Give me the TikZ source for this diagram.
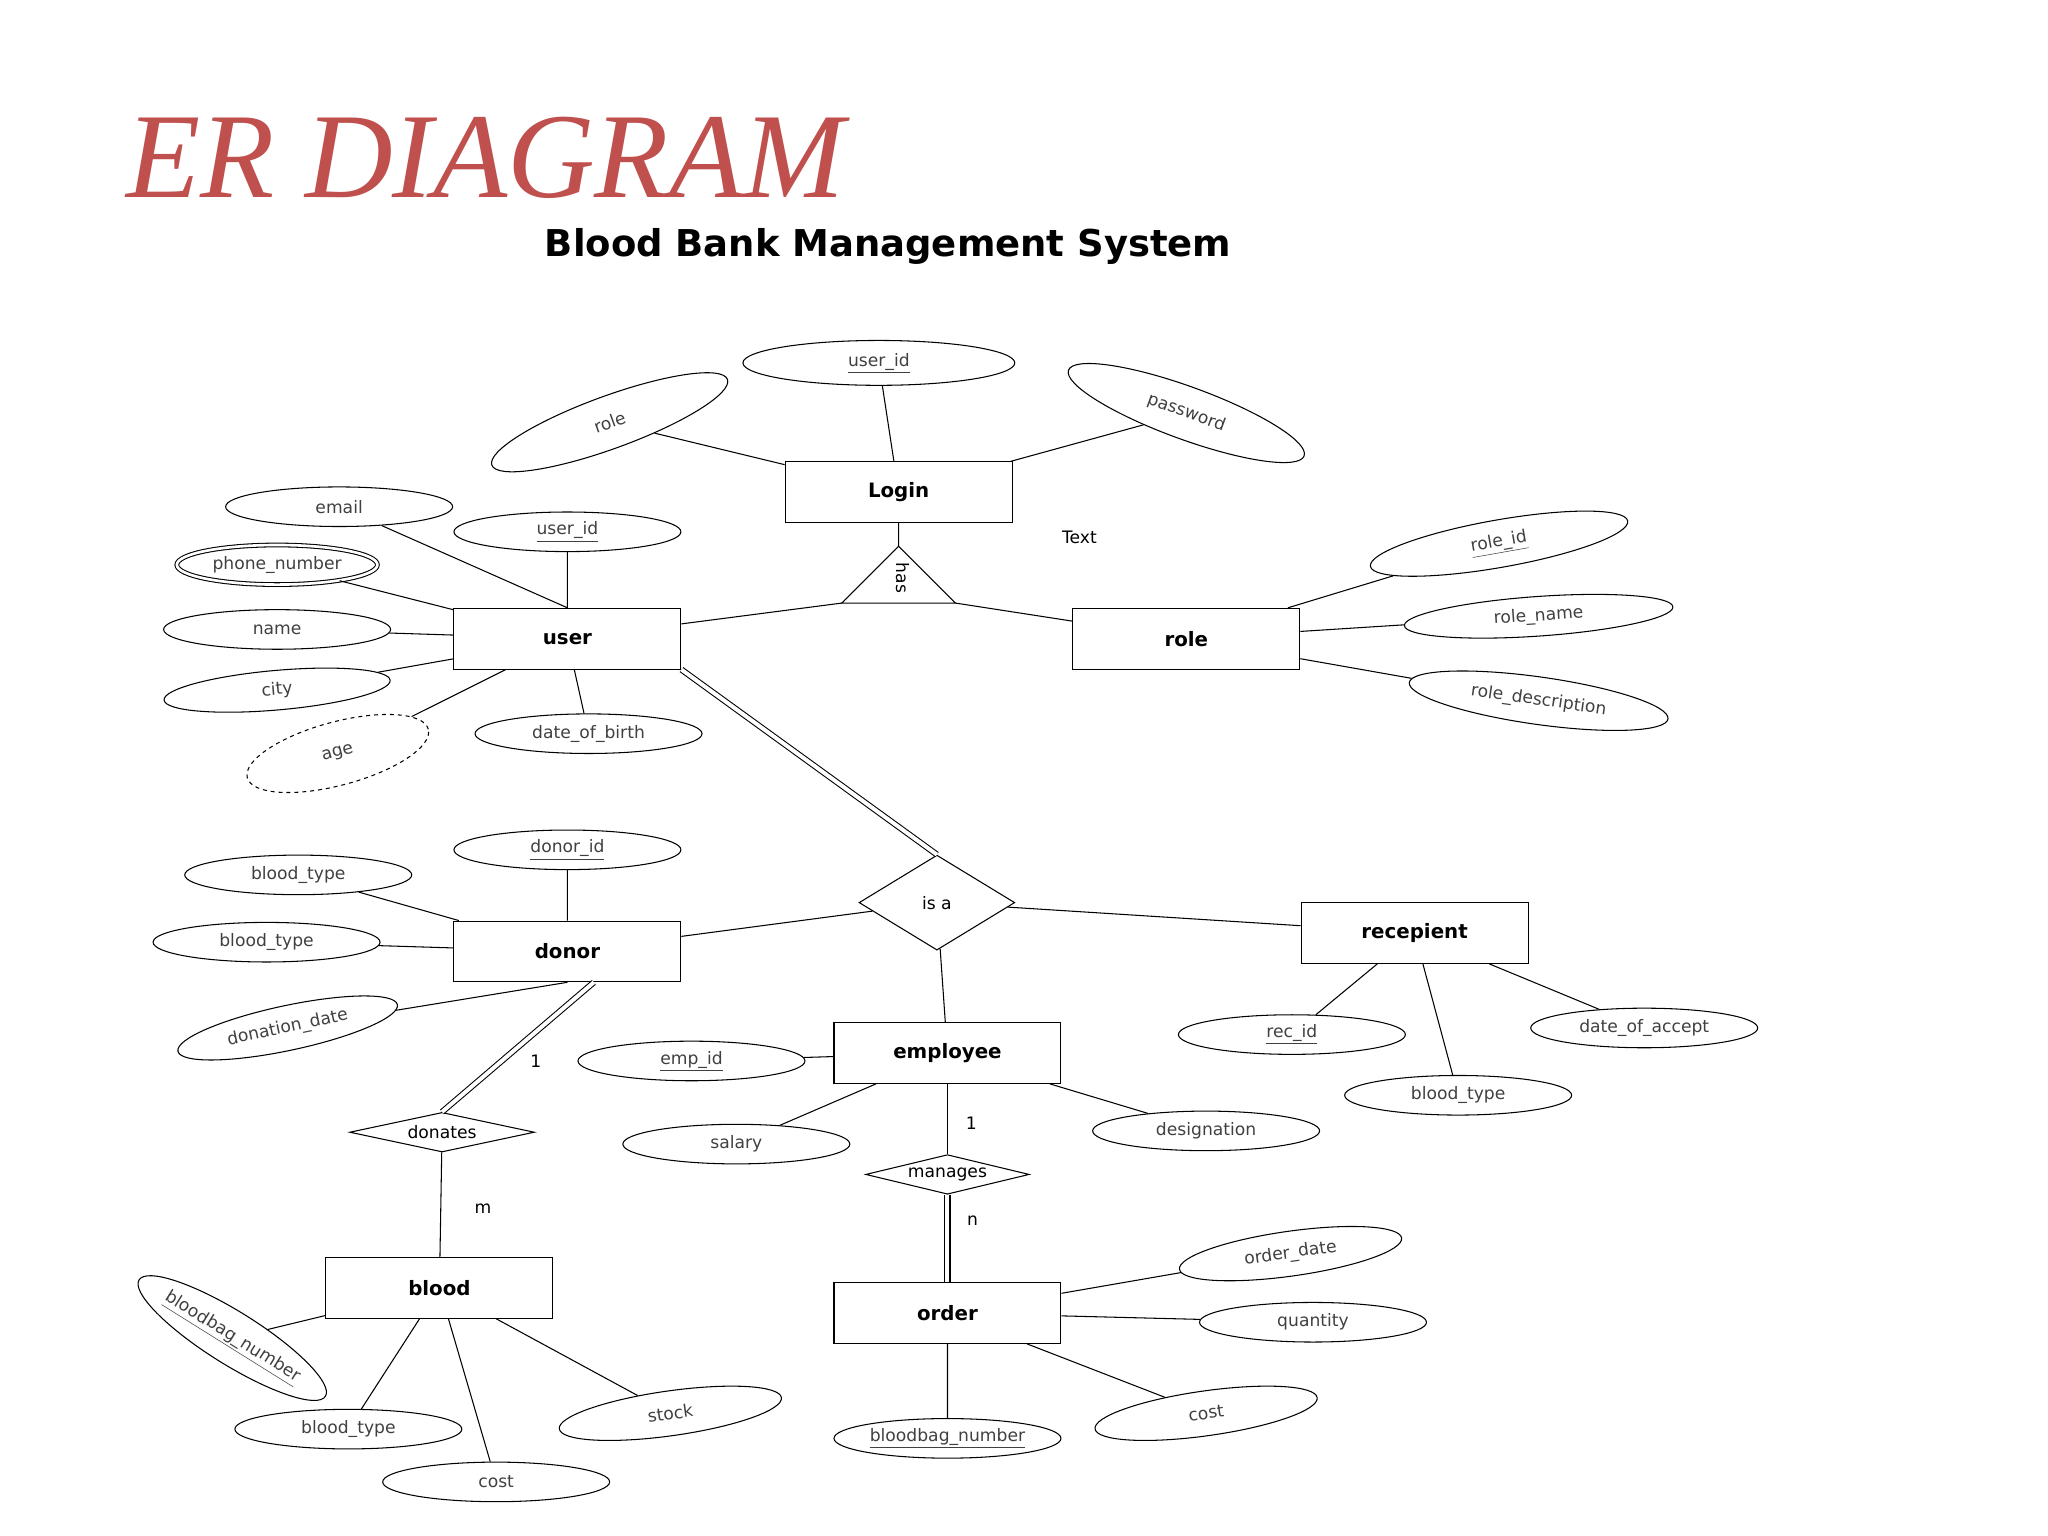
\documentclass[tikz,border=0pt]{standalone}
\usepackage{fontspec}
\setmainfont{Liberation Serif}
\newfontfamily\lab{DejaVu Sans}
\usetikzlibrary{shapes.geometric}
\definecolor{titlered}{RGB}{192,80,77}
\tikzset{
 ent/.style={draw,thick,minimum width=172pt,minimum height=46pt,font=\lab\bfseries\fontsize{15}{17}\selectfont},
 att/.style={draw,ellipse,minimum width=172pt,minimum height=30pt,inner sep=0pt,font=\lab\fontsize{13}{15}\selectfont,text=black!75},
 rel/.style={draw,diamond,aspect=3,inner sep=0pt,font=\lab\fontsize{13}{15}\selectfont},
 dbl/.style={double,double distance=3pt},
 lbl/.style={font=\lab\fontsize{13}{15}\selectfont}
}
\begin{document}
\begin{tikzpicture}[x=1pt,y=-1pt,line width=0.8pt]
\useasboundingbox (0,0) rectangle (1552,1164);
\node[anchor=base west,text=titlered,font=\itshape\fontsize{92}{100}\selectfont] (title) at (92,150) {ER DIAGRAM};
\node[font=\lab\bfseries\fontsize{28}{32}\selectfont] (sub) at (673,187) {Blood Bank Management System};
% Login
\node[ent] (login) at (681,373) {Login};
\node[att,minimum width=206pt,minimum height=34pt] (luid) at (666,275) {\underline{user\_id}};
\node[att,minimum width=190pt,minimum height=40pt,rotate=20] (lrole) at (462,320) {role};
\node[att,minimum width=190pt,minimum height=40pt,rotate=-20] (lpass) at (899,313) {password};
\coordinate (hA) at (681,414); \coordinate (hL) at (638,457); \coordinate (hR) at (724,457);
\draw (hA)--(hL)--(hR)--cycle;
\node[lbl,rotate=-90] (has) at (684,438) {has};
\node[lbl] (txt) at (818,407) {Text};
\draw (login)--(luid) (login)--(lrole) (login)--(lpass) (login)--(hA);
% user
\node[ent] (user) at (430,484) {user};
\node[ent] (role) at (899,484) {role};
\draw (hL)--(user) (hR)--(role);
\node[att] (email) at (257,384) {email};
\node[att] (uid) at (430,403) {\underline{user\_id}};
\node[att,minimum width=152pt,double,double distance=2pt] (phone) at (210,428) {phone\_number};
\node[att] (name) at (210,477) {name};
\node[att,rotate=5] (city) at (210,523) {city};
\node[att,dashed,minimum width=142pt,minimum height=48pt,rotate=15] (age) at (256,571) {age};
\node[att] (dob) at (446,556) {date\_of\_birth};
\draw (email)--(user.north) (uid)--(user) (phone)--(user) (name)--(user) (city)--(user) (age)--(user) (dob)--(user);
% role
\node[att,minimum width=198pt,minimum height=36pt,rotate=10] (rid) at (1136,412) {\underline{role\_id}};
\node[att,minimum width=204pt,rotate=4] (rname) at (1166,467) {role\_name};
\node[att,minimum width=198pt,minimum height=36pt,rotate=-8] (rdesc) at (1166,531) {role\_description};
\draw (role)--(rid) (role)--(rname) (role)--(rdesc);
% is a
\node[rel,minimum width=118pt,minimum height=72pt,aspect=1.6] (isa) at (710,684) {is a};
\draw[dbl] (user.south east)--(isa.north);
\node[ent] (donor) at (430,721) {donor};
\node[ent] (recep) at (1072,707) {recepient};
\node[ent] (emp) at (718,798) {employee};
\draw (isa)--(donor) (isa)--(recep) (isa)--(emp);
% donor
\node[att] (did) at (430,644) {\underline{donor\_id}};
\node[att] (dbt1) at (226,663) {blood\_type};
\node[att] (dbt2) at (202,714) {blood\_type};
\node[att,minimum width=170pt,minimum height=34pt,rotate=12] (ddate) at (218,779) {donation\_date};
\draw (donor)--(did) (donor)--(dbt1) (donor)--(dbt2) (donor.south)--(ddate);
\node[rel,minimum width=140pt,minimum height=30pt,aspect=4.6] (donates) at (335,858) {donates};
\draw[dbl] (donor.south)++(20,0)--(donates.north);
\node[lbl] (one1) at (406,804) {1};
\node[lbl] (mm) at (366,916) {m};
\node[ent] (blood) at (333,976) {blood};
\draw (donates)--(blood);
\node[att,minimum width=152pt,minimum height=40pt,rotate=-32] (bbn) at (176,1014) {\underline{bloodbag\_number}};
\node[att] (bbt) at (264,1083) {blood\_type};
\node[att] (bcost) at (376,1123) {cost};
\node[att,minimum width=170pt,minimum height=34pt,rotate=8] (stock) at (508,1071) {stock};
\draw (blood)--(bbn) (blood)--(bbt) (blood)--(bcost) (blood)--(stock);
% recepient
\node[att] (recid) at (979,784) {\underline{rec\_id}};
\node[att] (rbt) at (1105,830) {blood\_type};
\node[att] (rdoa) at (1246,779) {date\_of\_accept};
\draw (recep)--(recid) (recep)--(rbt) (recep)--(rdoa);
% employee
\node[att] (eid) at (524,804) {\underline{emp\_id}};
\node[att] (sal) at (558,867) {salary};
\node[att] (desig) at (914,857) {designation};
\draw (emp)--(eid) (emp)--(sal) (emp)--(desig);
\node[rel,minimum width=124pt,minimum height=30pt,aspect=4.1] (manages) at (718,890) {manages};
\draw (emp)--(manages);
\node[lbl] (one2) at (736,851) {1};
\node[lbl] (nn) at (737,925) {n};
\node[ent] (order) at (718,995) {order};
\draw[dbl] (manages)--(order);
\node[att,minimum width=170pt,minimum height=34pt,rotate=8] (odate) at (978,950) {order\_date};
\node[att] (qty) at (995,1002) {quantity};
\node[att,minimum width=170pt,minimum height=34pt,rotate=8] (ocost) at (914,1071) {cost};
\node[att,thick] (obbn) at (718,1090) {\underline{bloodbag\_number}};
\draw (order)--(odate) (order)--(qty) (order)--(ocost) (order)--(obbn);
\end{tikzpicture}
\end{document}
